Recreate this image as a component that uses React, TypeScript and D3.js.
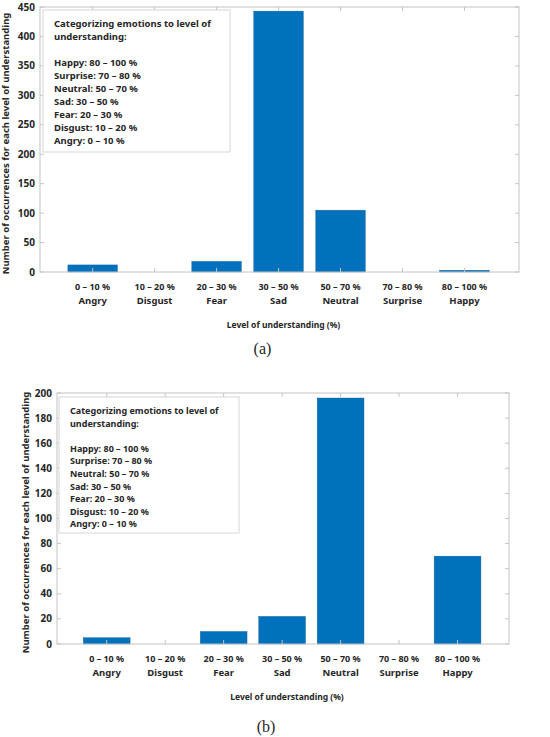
import React from "react";
import * as d3 from "d3";

const rangeLabels = ["0 – 10 %", "10 – 20 %", "20 – 30 %", "30 – 50 %", "50 – 70 %", "70 – 80 %", "80 – 100 %"];
const emotions = ["Angry", "Disgust", "Fear", "Sad", "Neutral", "Surprise", "Happy"];
const countsA = [12, 0, 18, 443, 105, 0, 3];
const countsB = [5, 0, 10, 22, 196, 0, 70];
const legendLines = [
  "Categorizing emotions to level of",
  "understanding:",
  "",
  "Happy: 80 – 100 %",
  "Surprise: 70 – 80 %",
  "Neutral: 50 – 70 %",
  "Sad: 30 – 50 %",
  "Fear: 20 – 30 %",
  "Disgust: 10 – 20 %",
  "Angry: 0 – 10 %",
];
const yTitle = "Number of occurrences for each level of understanding";
const xTitle = "Level of understanding (%)";

const FONT = "'Noto Sans', 'Open Sans', sans-serif";
const TEXT = "#262626";
const AXIS = "#c4c4c4";
const BAR = "#0072BD";

interface PanelProps {
  counts: number[];
  yMax: number;
  yStep: number;
  left: number;
  right: number;
  top: number;
  bottom: number;
  yTitleX: number;
  legend: { x: number; y: number; w: number; h: number; step: number; size: number };
  label: string;
  labelY: number;
}

const Panel: React.FC<PanelProps> = ({ counts, yMax, yStep, left, right, top, bottom, yTitleX, legend, label, labelY }) => {
  const x = d3.scaleLinear().domain([0.15, 7.88]).range([left, right]);
  const y = d3.scaleLinear().domain([0, yMax]).range([bottom, top]);
  const step = x(2) - x(1);
  const bw = step * 0.8;
  const yTicks = d3.range(0, yMax + 0.001, yStep);
  const cats = d3.range(1, 8);
  const tl = 4;
  return (
    <g fontFamily={FONT} fill={TEXT}>
      {/* bars */}
      {counts.map((c, i) => (
        <rect key={i} x={x(i + 1) - bw / 2} y={y(c)} width={bw} height={bottom - y(c)} fill={BAR} stroke="#1a5f9a" strokeWidth={0.4} />
      ))}
      {/* box */}
      <rect x={left} y={top} width={right - left} height={bottom - top} fill="none" stroke={AXIS} strokeWidth={1} />
      {yTicks.map((t) => (
        <g key={t}>
          <line x1={left} x2={left + tl} y1={y(t)} y2={y(t)} stroke={AXIS} />
          <line x1={right} x2={right - tl} y1={y(t)} y2={y(t)} stroke={AXIS} />
          <text x={left - 5} y={y(t)} dy="0.35em" textAnchor="end" fontSize={10} fontWeight={700}>
            {t}
          </text>
        </g>
      ))}
      {cats.map((c) => (
        <g key={c}>
          <line x1={x(c)} x2={x(c)} y1={bottom} y2={bottom - tl} stroke={AXIS} />
          <line x1={x(c)} x2={x(c)} y1={top} y2={top + tl} stroke={AXIS} />
          <text x={x(c)} y={bottom + 18} textAnchor="middle" fontSize={9} fontWeight={700}>
            {rangeLabels[c - 1]}
          </text>
          <text x={x(c)} y={bottom + 32} textAnchor="middle" fontSize={9.5} fontWeight={700}>
            {emotions[c - 1]}
          </text>
        </g>
      ))}
      {/* legend */}
      <rect x={legend.x} y={legend.y} width={legend.w} height={legend.h} fill="#fff" stroke="#d6d6d6" />
      {legendLines.map((l, i) => (
        <text key={i} x={legend.x + 11} y={legend.y + 17 + i * legend.step} fontSize={legend.size} fontWeight={700}>
          {l}
        </text>
      ))}
      {/* titles */}
      <text
        transform={`translate(${yTitleX},${(top + bottom) / 2 + 4}) rotate(-90)`}
        textAnchor="middle"
        fontSize={9.5}
        fontWeight={700}
      >
        {yTitle}
      </text>
      <text x={(left + right) / 2 + 4} y={bottom + 56} textAnchor="middle" fontSize={8.5} fontWeight={700}>
        {xTitle}
      </text>
      <text x={(left + right) / 2 - 17} y={labelY} textAnchor="middle" fontSize={16} fontFamily="'Liberation Serif', serif">
        {label}
      </text>
    </g>
  );
};

export default function App() {
  return (
    <svg width={550} height={737} style={{ position: "absolute", left: 0, top: 0, background: "#fff" }}>
      <Panel
        counts={countsA}
        yMax={450}
        yStep={50}
        left={40}
        right={519}
        top={7}
        bottom={272}
        yTitleX={9}
        legend={{ x: 43, y: 10, w: 187, h: 142, step: 13, size: 9.5 }}
        label="(a)"
        labelY={354}
      />
      <Panel
        counts={countsB}
        yMax={200}
        yStep={20}
        left={57}
        right={509}
        top={393}
        bottom={644}
        yTitleX={29}
        legend={{ x: 59, y: 397, w: 180, h: 136, step: 12.6, size: 9 }}
        label="(b)"
        labelY={732}
      />
    </svg>
  );
}
